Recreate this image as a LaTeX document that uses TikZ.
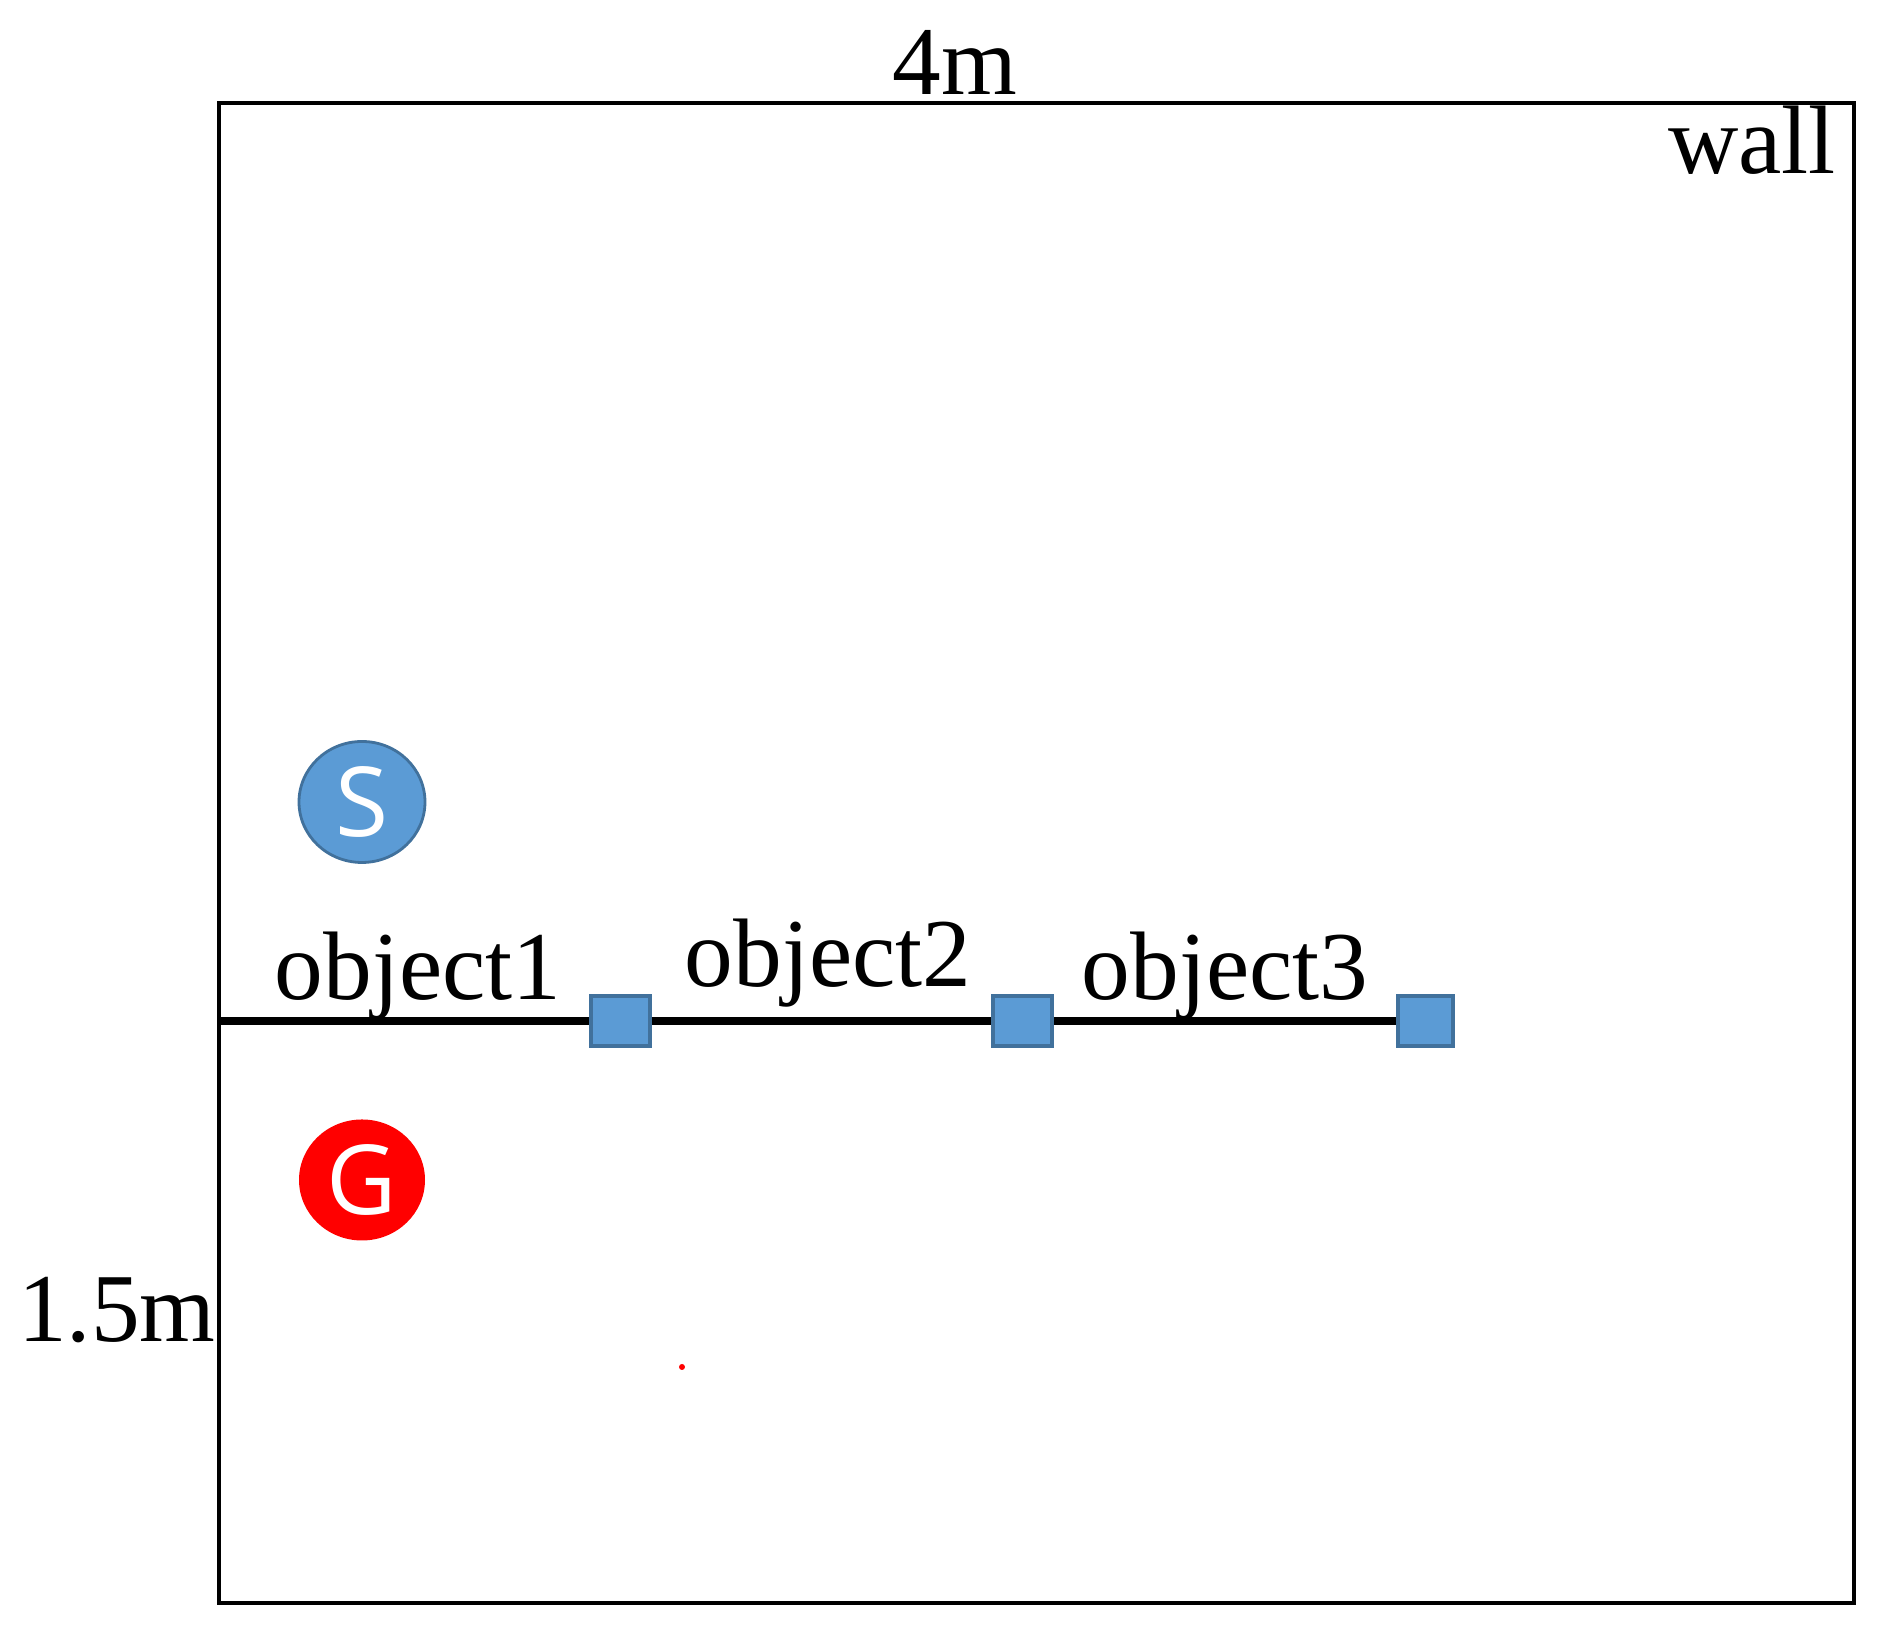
\documentclass[tikz,border=0pt]{standalone}
\usepackage{fontspec}
\setmainfont{Liberation Serif}
\newfontfamily\markfont{Open Sans}
\usetikzlibrary{shapes.geometric}
\definecolor{objblue}{HTML}{5B9BD5}
\definecolor{objedge}{HTML}{41719C}
\tikzset{
  lbl/.style={inner sep=0pt, anchor=base, font=\fontsize{27.7}{30}\selectfont},
  disc/.style={ellipse, inner sep=0pt, minimum width=1.26cm, minimum height=1.21cm, text=white, font=\markfont\fontsize{27.5}{30}\selectfont},
  objbox/.style={rectangle, inner sep=0pt, minimum height=0.50cm, fill=objblue, draw=objedge, line width=1pt},
}
\begin{document}
\begin{tikzpicture}
\useasboundingbox (0,0) rectangle (19.01,16.43);
\node[draw, line width=1pt, inner sep=0pt, minimum width=16.35cm, minimum height=15cm] (wall) at (10.365,7.9){};
\node[lbl] (top) at (9.55,15.48){4m};
\node[lbl] (wallname) at (17.52,14.69){wall};
\node[lbl] (side) at (1.17,3.01){1.5m};
\node[disc, fill=objblue, draw=objedge, line width=.8pt] (start) at (3.62,8.41){S};
\node[disc, fill=red] (goal) at (3.62,4.63){G};
\node[objbox, minimum width=0.59cm] (obj1) at (6.205,6.22){};
\node[objbox, minimum width=0.59cm] (obj2) at (10.225,6.22){};
\node[objbox, minimum width=0.55cm] (obj3) at (14.255,6.22){};
\coordinate (base) at (wall.west |- obj1);
\draw[line width=2.1pt](base) -- (obj1);
\draw[line width=2.1pt](obj1) -- (obj2);
\draw[line width=2.1pt](obj2) -- (obj3);
\node[lbl] (name1) at (4.18,6.43){object1};
\node[lbl] (name2) at (8.28,6.56){object2};
\node[lbl] (name3) at (12.25,6.43){object3};
\node[circle, fill=red, inner sep=0pt, minimum size=0.06cm] (dot) at (6.82,2.76){};
\end{tikzpicture}
\end{document}
